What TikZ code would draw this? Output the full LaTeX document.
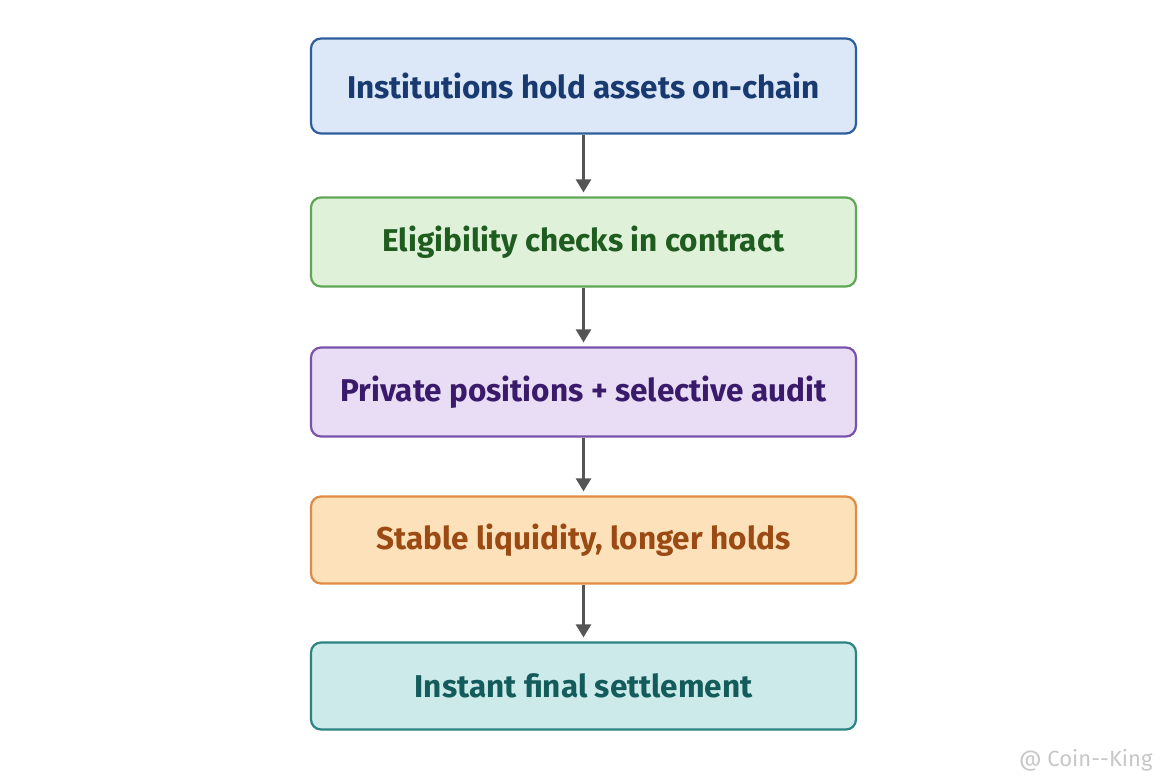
\documentclass[tikz,border=0pt]{standalone}
\usepackage{fontspec}
\setmainfont{Fira Sans}
\usetikzlibrary{positioning,arrows.meta}

\definecolor{blueFill}{HTML}{DCE8F8}
\definecolor{blueLine}{HTML}{2F5E9E}
\definecolor{blueText}{HTML}{183A70}
\definecolor{greenFill}{HTML}{E0F1D9}
\definecolor{greenLine}{HTML}{5FA656}
\definecolor{greenText}{HTML}{1F5C20}
\definecolor{purpleFill}{HTML}{E8DDF5}
\definecolor{purpleLine}{HTML}{7B52AA}
\definecolor{purpleText}{HTML}{3A1B6B}
\definecolor{orangeFill}{HTML}{FDE1BA}
\definecolor{orangeLine}{HTML}{E08C42}
\definecolor{orangeText}{HTML}{9A4A12}
\definecolor{tealFill}{HTML}{CDEAEA}
\definecolor{tealLine}{HTML}{2C8383}
\definecolor{tealText}{HTML}{145C5C}
\definecolor{arrowGray}{HTML}{555555}

\begin{document}
\begin{tikzpicture}[x=1pt, y=-1pt,
  box/.style={draw, line width=2.2pt, rounded corners=10pt, minimum width=545pt,
    font=\fontsize{31.5}{34}\selectfont\bfseries},
  flow/.style={draw=arrowGray, line width=2.5pt, -{Triangle[length=13pt,width=15pt]}, shorten >=4pt}]
  \useasboundingbox[fill=white] (0,0) rectangle (1168,784);

  % the five steps
  \node[box, minimum height=95pt, fill=blueFill, draw=blueLine, text=blueText] (hold) at (583.5,86) {Institutions hold assets on-chain};
  \node[box, minimum height=89pt, fill=greenFill, draw=greenLine, text=greenText] (check) at (583.5,242) {Eligibility checks in contract};
  \node[box, minimum height=89pt, fill=purpleFill, draw=purpleLine, text=purpleText] (audit) at (583.5,392) {Private positions + selective audit};
  \node[box, minimum height=87pt, fill=orangeFill, draw=orangeLine, text=orangeText] (liquid) at (583.5,540) {Stable liquidity, longer holds};
  \node[box, minimum height=87pt, fill=tealFill, draw=tealLine, text=tealText] (settle) at (583.5,686) {Instant final settlement};

  \draw[flow] (hold) -- (check);
  \draw[flow] (check) -- (audit);
  \draw[flow] (audit) -- (liquid);
  \draw[flow] (liquid) -- (settle);

  \node[text=black!22, font=\fontsize{22}{24}\selectfont, anchor=east] (mark) at (1156,760) {@ Coin-{}-King};
\end{tikzpicture}
\end{document}
